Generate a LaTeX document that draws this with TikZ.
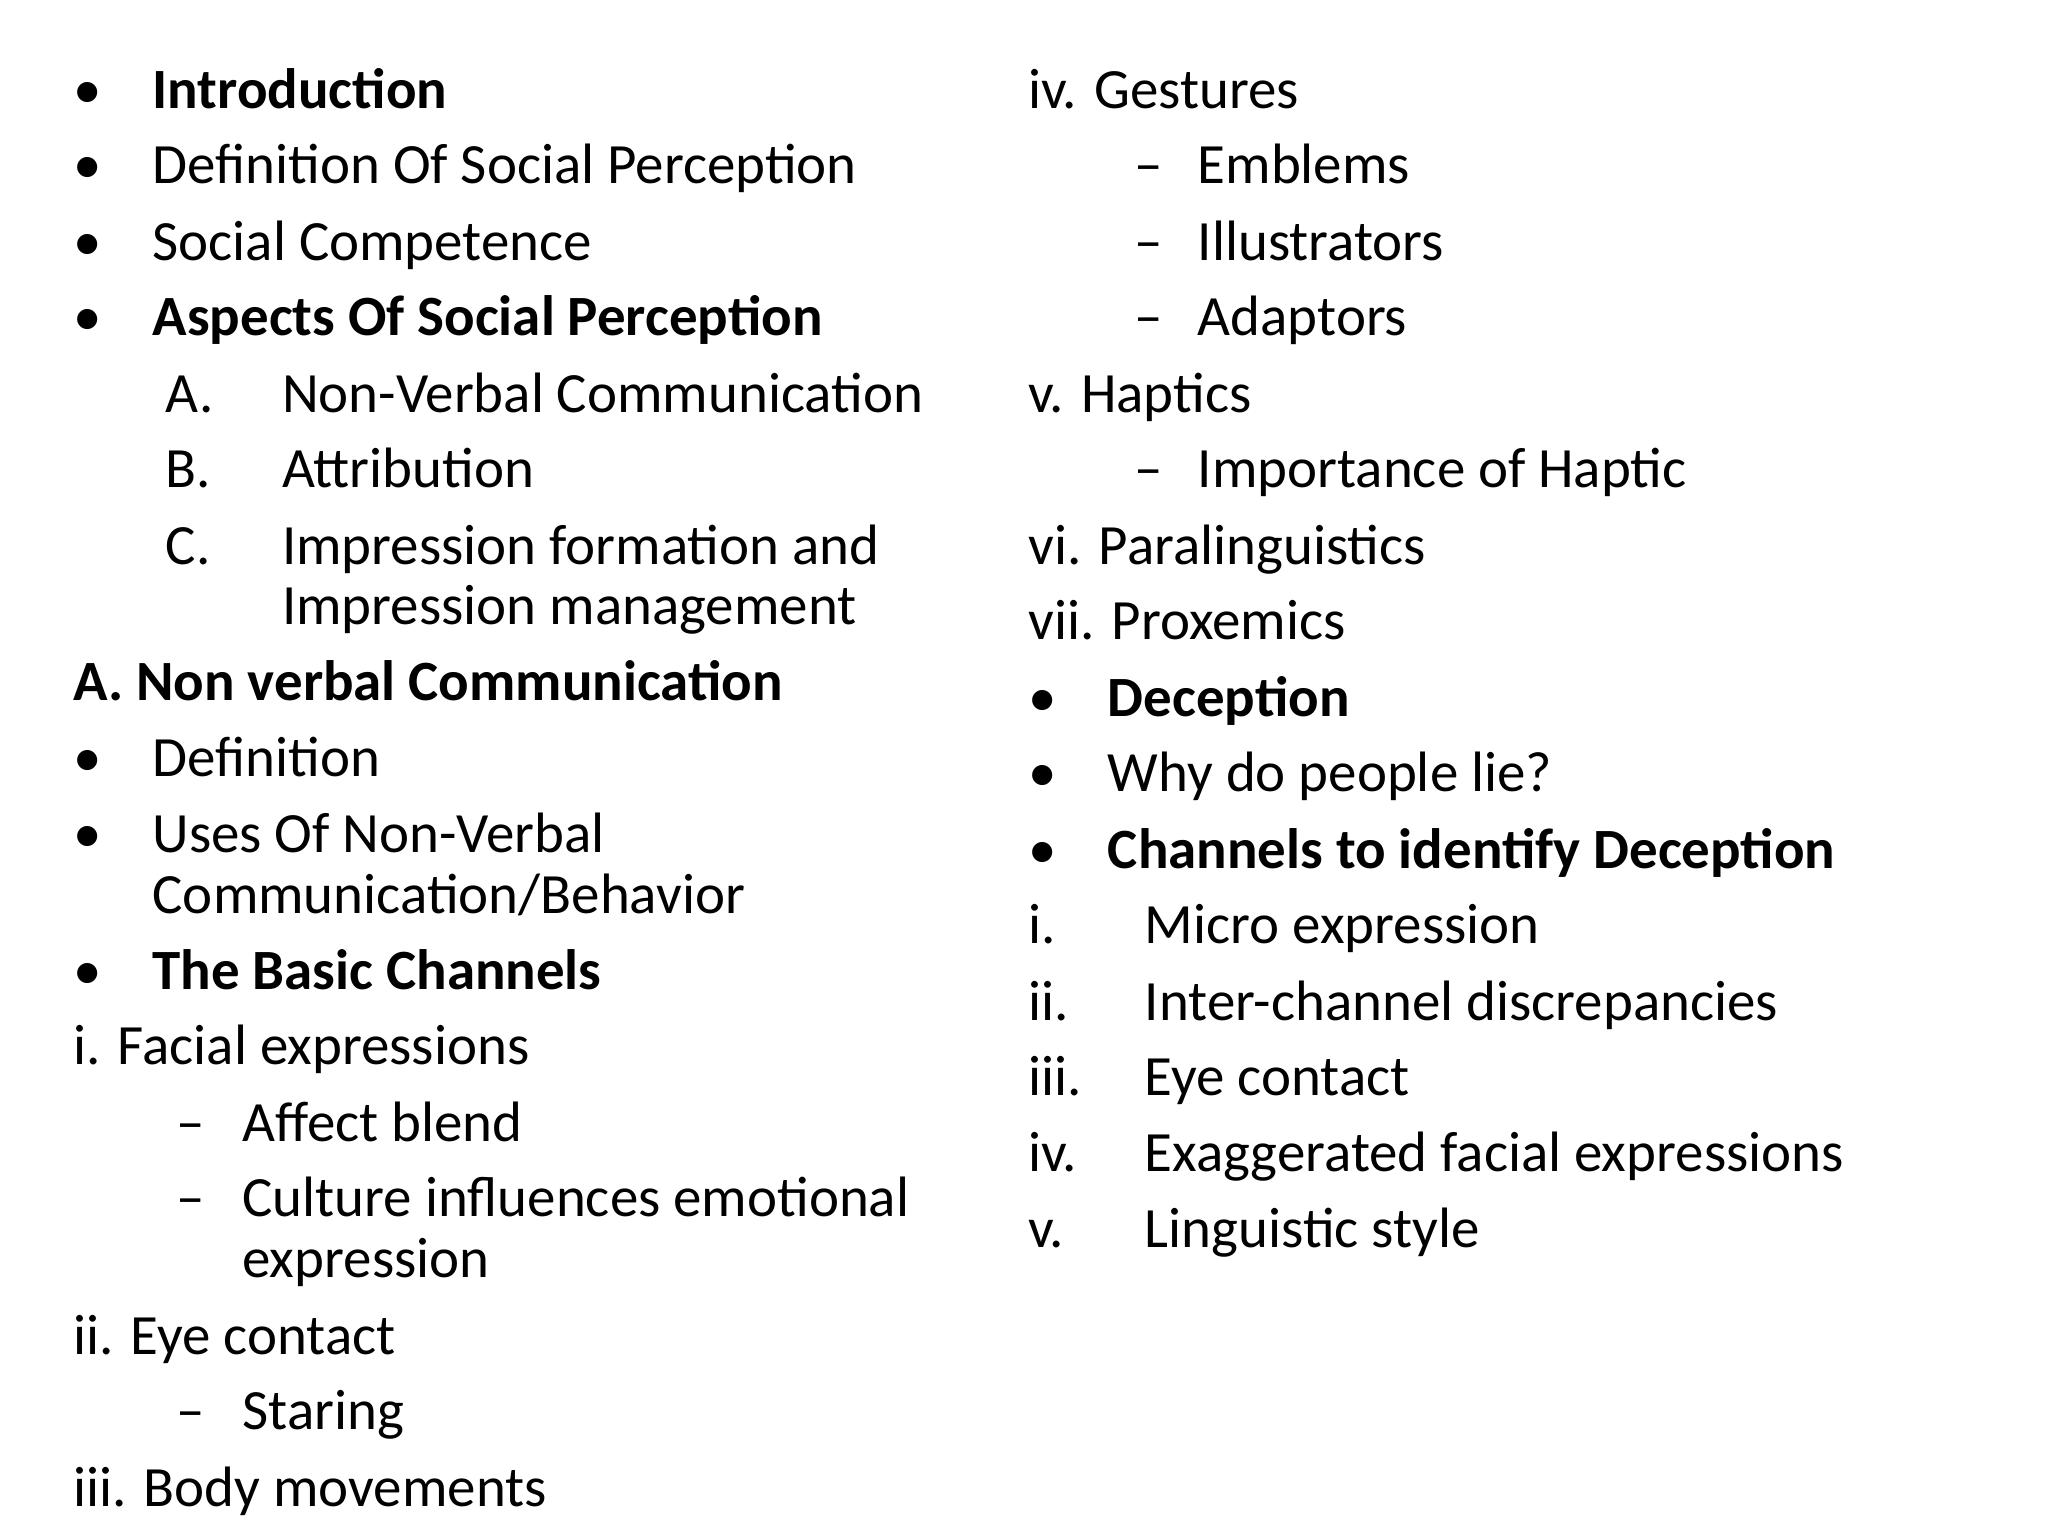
\documentclass[tikz,border=0pt]{standalone}
\usepackage{fontspec}
\setmainfont{Carlito}
\begin{document}
\begin{tikzpicture}[x=0.013213cm,y=-0.013213cm,
  t/.style={anchor=base west,inner sep=0pt,font=\fontsize{16.2}{19}\selectfont},
  b/.style={t,font=\fontsize{16.2}{19}\selectfont\bfseries}]
\useasboundingbox (0,0) rectangle (1550,1162.5);
% left column
\node[t] (b1) at (55,82) {•}; \node[b] (l1) at (115,82) {Introduction};
\node[t] (b2) at (55,139) {•}; \node[t] (l2) at (115,139) {Definition Of Social Perception};
\node[t] (b3) at (55,197) {•}; \node[t] (l3) at (115,197) {Social Competence};
\node[t] (b4) at (55,254) {•}; \node[b] (l4) at (115,254) {Aspects Of Social Perception};
\node[t] (m1) at (125,312) {A.}; \node[t] (l5) at (213,312) {Non-Verbal Communication};
\node[t] (m2) at (125,369) {B.}; \node[t] (l6) at (213,369) {Attribution};
\node[t] (m3) at (125,427) {C.}; \node[t] (l7) at (213,427) {Impression formation and};
\node[t] (l7b) at (213,473) {Impression management};
\node[b] (l8) at (55,530) {A. Non verbal Communication};
\node[t] (b5) at (55,588) {•}; \node[t] (l9) at (115,588) {Definition};
\node[t] (b6) at (55,645) {•}; \node[t] (l10) at (115,645) {Uses Of Non-Verbal};
\node[t] (l10b) at (115,691) {Communication/Behavior};
\node[t] (b7) at (55,749) {•}; \node[b] (l11) at (115,749) {The Basic Channels};
\node[t] (l12) at (55,806) {i. Facial expressions};
\node[t] (d1) at (133,864) {–}; \node[t] (l13) at (183,864) {Affect blend};
\node[t] (d2) at (133,921) {–}; \node[t] (l14) at (183,921) {Culture influences emotional};
\node[t] (l14b) at (183,967) {expression};
\node[t] (l15) at (55,1025) {ii. Eye contact};
\node[t] (d3) at (133,1082) {–}; \node[t] (l16) at (183,1082) {Staring};
\node[t] (l17) at (55,1140) {iii. Body movements};
% right column
\node[t] (r1) at (778,82) {iv. Gestures};
\node[t] (e1) at (858,139) {–}; \node[t] (r2) at (906,139) {Emblems};
\node[t] (e2) at (858,197) {–}; \node[t] (r3) at (906,197) {Illustrators};
\node[t] (e3) at (858,254) {–}; \node[t] (r4) at (906,254) {Adaptors};
\node[t] (r5) at (778,312) {v. Haptics};
\node[t] (e4) at (858,369) {–}; \node[t] (r6) at (906,369) {Importance of Haptic};
\node[t] (r7) at (778,427) {vi. Paralinguistics};
\node[t] (r8) at (778,484) {vii. Proxemics};
\node[t] (c1) at (778,542) {•}; \node[b] (r9) at (838,542) {Deception};
\node[t] (c2) at (778,599) {•}; \node[t] (r10) at (838,599) {Why do people lie?};
\node[t] (c3) at (778,657) {•}; \node[b] (r11) at (838,657) {Channels to identify Deception};
\node[t] (n1) at (778,714) {i.}; \node[t] (r12) at (866,714) {Micro expression};
\node[t] (n2) at (778,772) {ii.}; \node[t] (r13) at (866,772) {Inter-channel discrepancies};
\node[t] (n3) at (778,829) {iii.}; \node[t] (r14) at (866,829) {Eye contact};
\node[t] (n4) at (778,887) {iv.}; \node[t] (r15) at (866,887) {Exaggerated facial expressions};
\node[t] (n5) at (778,944) {v.}; \node[t] (r16) at (866,944) {Linguistic style};
\end{tikzpicture}
\end{document}
